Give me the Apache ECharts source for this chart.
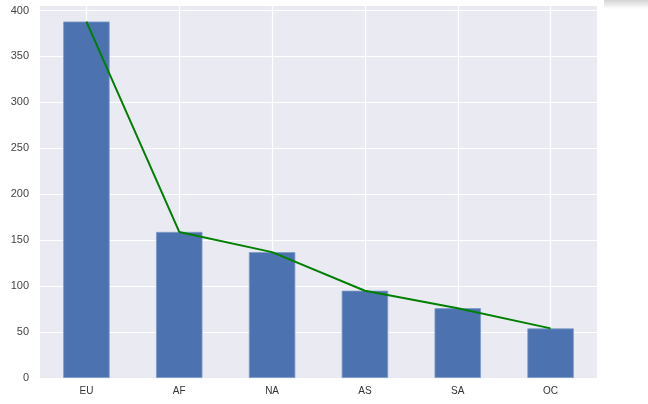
<!DOCTYPE html>
<html>
<head>
<meta charset="utf-8">
<script src="https://cdn.jsdelivr.net/npm/echarts@6/dist/echarts.min.js"></script>
<style>
  html, body { margin: 0; padding: 0; background: #fff; }
  #chart { width: 648px; height: 404px; }
</style>
</head>
<body>
<div id="chart"></div>
<script>
// chart data
var regions = ['EU', 'AF', 'NA', 'AS', 'SA', 'OC'];
var counts  = [388, 159, 137, 95, 76, 54];
var lineCounts = [388, 159, 137, 95, 76, 54];

var myChart = echarts.init(document.getElementById('chart'));

var option = {
  animation : false,
  grid : {
    left : 40, right : 51, top : 5, bottom : 26,
    show : true, backgroundColor : '#EAEAF2', borderWidth : 0
  },
  graphic : [
    {
      type : 'rect', left : 604, top : 0, silent : true,
      shape : { width : 44, height : 9 },
      style : {
        fill : new echarts.graphic.LinearGradient(0, 0, 0, 1, [
          { offset : 0, color : '#d4d4d4' },
          { offset : 1, color : '#ffffff' }
        ])
      }
    }
  ],
  xAxis : {
    type : 'category',
    data : regions,
    axisLine : { show : false },
    axisTick : { show : false },
    axisLabel : {
      color : '#333', fontSize : 10, margin : 8,
      fontFamily : 'Liberation Sans Narrow, Liberation Sans, sans-serif'
    },
    splitLine : { show : true, alignWithLabel : true, lineStyle : { color : '#fff', width : 1.2 } }
  },
  yAxis : {
    type : 'value',
    min : 0, max : 406, interval : 50,
    axisLine : { show : false },
    axisTick : { show : false },
    axisLabel : {
      color : '#444', fontSize : 11, margin : 11, showMaxLabel : false,
      fontFamily : 'Liberation Sans, sans-serif'
    },
    splitLine : { show : true, lineStyle : { color : '#fff', width : 1.2 } }
  },
  series : [
    {
      type : 'bar',
      data : counts,
      barWidth : '50%',
      z : 2,
      itemStyle : { color : '#4C72B0', borderColor : '#7f9ac6', borderWidth : 0.8 }
    },
    {
      type : 'line',
      data : lineCounts,
      z : 3,
      symbol : 'none',
      lineStyle : { color : '#008000', width : 2 }
    }
  ]
};

myChart.setOption(option);
</script>
</body>
</html>
